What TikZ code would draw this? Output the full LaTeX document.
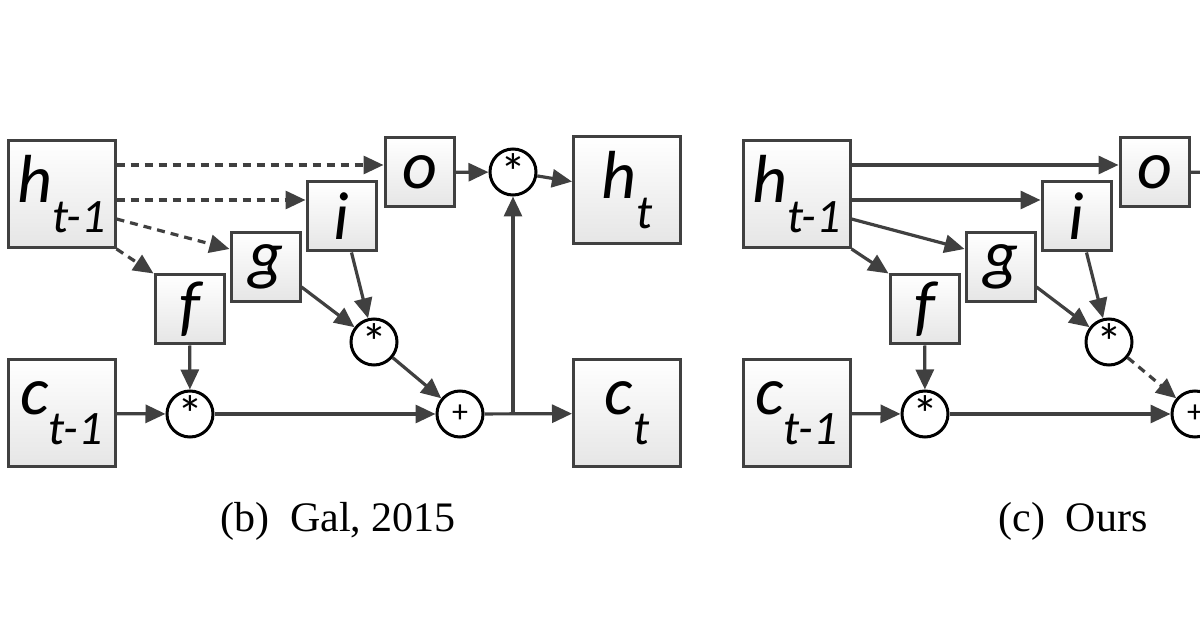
\documentclass[tikz,border=0pt]{standalone}
\usepackage{fontspec}
\setmainfont{Liberation Serif}
\newfontfamily\gatefont{Carlito}
\usetikzlibrary{arrows.meta,calc}
\newcommand{\linecolor}{black!75}
\newcommand{\sub}[2]{#1\raisebox{-15pt}{\fontsize{24}{24}\selectfont #2}}

% one cell: prefix, style of h-arrows, style of the (*)->(+) arrow
\newcommand{\lstmcell}[3]{
    \node[bigbox] (#1h) at (61.5, 194) {\sub{h}{t-1}};
    \node[bigbox] (#1c) at (61.5, 413.5) {\sub{c}{t-1}};
    \node[gate] (#1f) at (189.5, 309.5) {f};
    \node[gate] (#1g) at (265.5, 267) {g};
    \node[gate] (#1i) at (341.5, 216.5) {i};
    \node[gate] (#1o) at (419.5, 172.5) {o};
    \node[bigbox] (#1ht) at (627, 190.5) {\sub{h}{t}};
    \node[bigbox] (#1ct) at (627, 413.5) {\sub{c}{t}};
    \node[op] (#1fm) at (190, 414) {\raisebox{-4pt}{*}};
    \node[op] (#1gm) at (374, 342) {\raisebox{-4pt}{*}};
    \node[op] (#1om) at (513, 172) {\raisebox{-4pt}{*}};
    \node[op, font=\gatefont\fontsize{16}{16}\selectfont] (#1p) at (460, 414) {+};
    \coordinate (#1j) at (#1om |- #1p);
    % input connections
    \draw[flow, #2] ([yshift=-13pt]#1h.north east) coordinate (#1a) -- (#1o.west |- #1a);
    \draw[flow, #2] ([yshift=-30.5pt]#1h.north east) coordinate (#1b) -- (#1i.west |- #1b);
    \draw[flow, #2] ([yshift=-40pt]#1h.north east) -- ([yshift=-9pt]#1g.north west);
    \draw[flow, #2] (#1h.south east) -- (#1f.north west);
    % cell state
    \draw[flow] (#1f) -- (#1fm);
    \draw[flow] (#1c) -- (#1fm);
    \draw[flow] (#1fm) -- (#1p);
    \draw[flow] ([yshift=-10pt]#1g.east) -- (#1gm);
    \draw[flow] ([xshift=5pt]#1i.south) -- (#1gm);
    \draw[flow, #3] (#1gm) -- (#1p);
    \draw[flow] (#1p) -- (#1ct);
    \draw[flow] (#1j) -- (#1om);
    \draw[flow] (#1o) -- (#1om);
    \draw[flow] (#1om) -- (#1ht);
}

\begin{document}
\begin{tikzpicture}[x=0.5pt, y=-0.5pt,
    box/.style={draw=\linecolor, line width=1.5pt, top color=white, bottom color=black!10,
        inner sep=0pt, font=\gatefont\itshape\fontsize{34}{34}\selectfont},
    bigbox/.style={box, minimum width=53.5pt, minimum height=53.5pt},
    gate/.style={box, minimum width=34.5pt, minimum height=34.5pt},
    op/.style={circle, draw=black, line width=1.5pt, fill=white, inner sep=0pt,
        minimum size=23pt, font=\gatefont\fontsize{26}{26}\selectfont},
    flow/.style={draw=\linecolor, line width=1.6pt, -{Triangle[length=10pt, width=9pt]}},
    gap/.style={dash pattern=on 4pt off 3pt}]
    \useasboundingbox (0, 0) rectangle (1200, 630);

    \lstmcell{l}{gap}{}
    \node[font=\fontsize{21}{21}\selectfont] (capl) at (338, 521) {(b)\ \ Gal, 2015};

    \begin{scope}[xshift=367.5pt]
        \lstmcell{r}{}{gap}
        \node[font=\fontsize{21}{21}\selectfont] (capr) at (338, 521) {(c)\ \ Ours};
    \end{scope}
\end{tikzpicture}
\end{document}
